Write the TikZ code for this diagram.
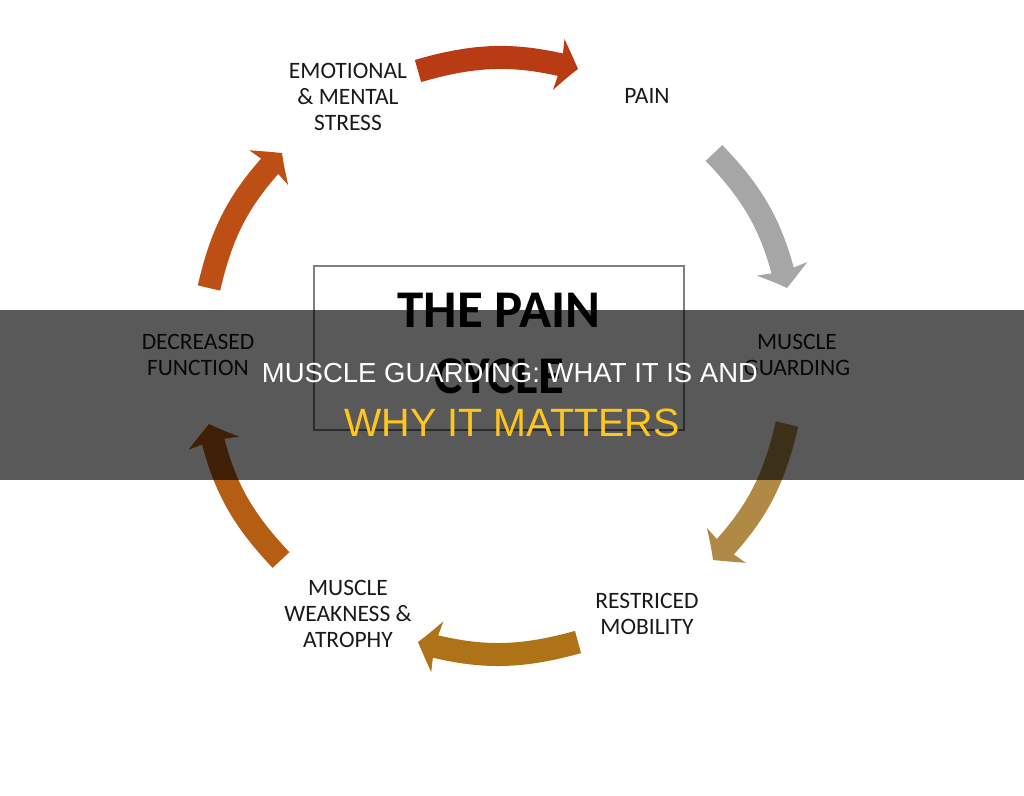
\documentclass[tikz,border=0pt]{standalone}
\usepackage{fontspec}
\setmainfont{Carlito}
\newfontfamily\bandfont{Liberation Sans}
\usetikzlibrary{arrows.meta,bending,positioning}
\definecolor{stressred}{HTML}{B83B13}
\definecolor{painGray}{HTML}{A6A6A6}
\definecolor{guardTan}{HTML}{B08A45}
\definecolor{mobilityOchre}{HTML}{AE7317}
\definecolor{weakBrown}{HTML}{B55D12}
\definecolor{functionRust}{HTML}{BD4F14}
\definecolor{bandYellow}{HTML}{FFC61E}
\tikzset{
  basic/.style={
  align=center,
  font=\fontsize{23.5}{26}\selectfont,
  text=black!90,
  inner sep=0pt,
  },
  blockarrow/.style={
  line width=23pt,
  -{Stealth[length=20pt,width=51pt,inset=3pt,bend]},
  bend left=15.5,
  },
}

\begin{document}
\begin{tikzpicture}[x=1pt,y=-1pt]
\useasboundingbox (0,0) rectangle (1024,795);

% the box in the middle
\node[draw=black!50,line width=1.5pt,minimum width=370pt,minimum height=164pt,inner sep=0pt](box) at (499,348){};
\node[align=center,inner sep=0pt,font=\fontsize{53}{66}\selectfont\bfseries](title) at (499,343){THE PAIN \\ CYCLE};

% labels round the circle
\node[basic](pain) at (647,96){PAIN};
\node[basic](guarding) at (797,355){MUSCLE \\ GUARDING};
\node[basic](mobility) at (647,614){RESTRICED \\ MOBILITY};
\node[basic](weakness) at (348,614){MUSCLE \\ WEAKNESS \& \\ ATROPHY};
\node[basic](function) at (198,355){DECREASED \\ FUNCTION};
\node[basic](stress) at (348,97){EMOTIONAL \\ \& MENTAL \\ STRESS};

% arrow ends
\coordinate (a1) at (418,71);  \coordinate (b1) at (578,69);
\coordinate (a2) at (714,153); \coordinate (b2) at (787,288);
\coordinate (a3) at (787,424); \coordinate (b3) at (713,560);
\coordinate (a4) at (578,642); \coordinate (b4) at (418,642);
\coordinate (a5) at (281,560); \coordinate (b5) at (209,424);
\coordinate (a6) at (209,288); \coordinate (b6) at (282,153);

% arrows between the labels
\foreach \value/\col in {1/stressred,2/painGray,3/guardTan,4/mobilityOchre,5/weakBrown,6/functionRust}
  \draw[blockarrow,draw=\col] (a\value) to (b\value);

% the band over the picture
\node[fill=black,opacity=.65,minimum width=1024pt,minimum height=170pt,inner sep=0pt](band) at (512,395){};
\node[text=white,inner sep=0pt,font=\bandfont\fontsize{27.5}{30}\selectfont](head) at (510,373){MUSCLE GUARDING: WHAT IT IS AND};
\node[text=bandYellow,inner sep=0pt,font=\bandfont\fontsize{39.5}{44}\selectfont](sub) at (512,423){WHY IT MATTERS};

\end{tikzpicture}
\end{document}
